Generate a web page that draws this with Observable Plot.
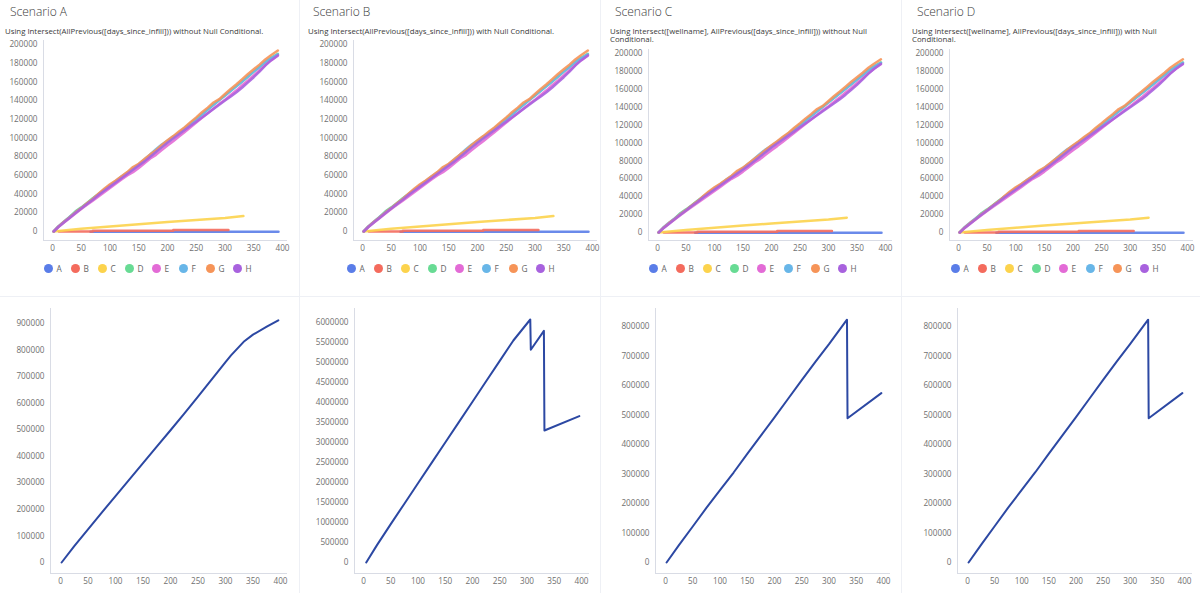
<!DOCTYPE html>
<html><head><meta charset="utf-8">
<script src="https://cdn.jsdelivr.net/npm/d3@7"></script>
<script src="https://cdn.jsdelivr.net/npm/@observablehq/plot@0.6"></script>
<style>
html,body{margin:0;padding:0;background:#fff;}
body{width:1200px;height:593px;position:relative;overflow:hidden;font-family:"Open Sans",sans-serif;}
.abs{position:absolute;}
.title{font-size:12px;font-weight:300;color:#3a3a3a;white-space:nowrap;line-height:16px;}
.sub{font-size:7.8px;color:#3a3a3a;line-height:8.3px;white-space:nowrap;}
.lg{position:absolute;height:10px;display:flex;align-items:center;font-size:8.3px;color:#666;}
.lg span.d{width:9px;height:9px;border-radius:50%;display:inline-block;margin-right:4px;}
.vsep{position:absolute;top:0;width:1px;height:593px;background:#eef0f5;}
.hsep{position:absolute;left:0;width:1200px;height:1px;background:#eef0f5;}
</style></head>
<body>
<script>
// ---------- DATA ----------
const scenarios = ["Scenario A", "Scenario B", "Scenario C", "Scenario D"];
const subtitles = [
  ["Using Intersect(AllPrevious([days_since_infill])) without Null Conditional."],
  ["Using Intersect(AllPrevious([days_since_infill])) with Null Conditional."],
  ["Using Intersect([wellname], AllPrevious([days_since_infill])) without Null", "Conditional."],
  ["Using Intersect([wellname], AllPrevious([days_since_infill])) with Null", "Conditional."]
];
const seriesNames = ["A", "B", "C", "D", "E", "F", "G", "H"];
const seriesColors = ["#5a7de8", "#f46b5d", "#fcd34d", "#68db94", "#e36bd6", "#68b6e8", "#f69458", "#a862de"];

// top charts (same in every scenario)
const aDays = [66, 393];
const aVals = [-300, -300];
const bDays = [11, 70, 70, 210, 210, 306];
const bVals = [0, 0, 700, 700, 1700, 1700];
const cDays = [2, 50, 100, 150, 200, 250, 300, 332];
const cVals = [0, 2900, 5400, 7800, 10100, 12300, 14500, 16500];
const wellDays = [2,10,20,30,40,50,60,70,80,90,100,110,120,130,140,150,160,170,180,190,200,210,220,230,240,250,260,270,280,290,300,310,320,330,340,350,360,370,380,392];
const dVals = [0,5000,10200,15500,21500,25800,30500,35500,40000,44500,49000,53500,57500,62000,66500,71000,75500,80500,85500,90500,95500,100500,105500,110500,115500,120500,125500,130500,135500,140500,145500,150500,155500,160500,165500,171000,176000,181000,185500,190000];
const eVals = [0,4500,9500,14500,19200,24000,28500,33000,37500,42000,46500,51000,55500,60000,63500,68000,73000,78000,82000,87000,92000,96500,101500,106500,111500,116500,121500,126500,131500,136500,141000,146000,151000,156500,161500,167000,172500,178000,183000,188000];
const fVals = [0,5500,10800,15800,20800,25200,29800,35000,40000,45000,49500,54000,58800,63000,67500,72000,77000,82500,88000,93000,97000,101500,105500,110500,115000,120000,125000,130500,135500,140500,145500,150500,155500,160500,166000,171000,176000,181500,185500,189500];
const gVals = [0,5200,10500,15200,20500,25000,30200,34800,40500,45800,50500,54500,59000,63500,69000,72500,77500,82500,87000,92500,97500,102000,107000,111500,117000,122000,127500,132500,138000,141500,147000,152500,157500,163000,168500,173500,178500,184000,188500,193500];
const hVals = [0,4800,9800,14800,19800,24500,29500,34000,39000,43500,48000,52500,57000,61500,66000,70500,75000,80000,85000,90000,95000,99500,104000,108500,113000,117500,122000,126500,131000,135500,140000,144500,149000,154000,159500,165000,171000,177500,183000,188500];

// bottom charts (one series per scenario)
const totADays = [2,25,50,75,100,125,150,175,200,225,250,275,300,310,333,350,375,396];
const totAVals = [0,62000,125000,188000,250000,312000,374000,436000,498000,561000,625000,690000,755000,780000,831000,858000,888000,912000];
const totBDays = [5,25,50,75,100,125,150,175,200,225,250,275,306,307,331,332,396];
const totBVals = [0,440000,960000,1470000,1980000,2490000,3000000,3510000,4020000,4530000,5040000,5550000,6075000,5320000,5790000,3300000,3660000];
const totCDays = [2,25,50,75,100,125,150,175,200,225,250,275,300,333,334,396];
const totCVals = [0,60000,122000,185000,245000,305000,368000,430000,492000,555000,618000,680000,740000,823000,489000,574000];
const totDDays = [2,25,50,75,100,125,150,175,200,225,250,275,300,333,334,396];
const totDVals = [0,60000,123000,186000,246000,306000,369000,431000,493000,556000,619000,681000,741000,823000,489000,574000];

const xTicks = [0, 50, 100, 150, 200, 250, 300, 350, 400];
const topYTicks = [0, 20000, 40000, 60000, 80000, 100000, 120000, 140000, 160000, 180000, 200000];
const botYTicksA = [0, 100000, 200000, 300000, 400000, 500000, 600000, 700000, 800000, 900000];
const botYTicksB = [0, 500000, 1000000, 1500000, 2000000, 2500000, 3000000, 3500000, 4000000, 4500000, 5000000, 5500000, 6000000];
const botYTicksCD = [0, 100000, 200000, 300000, 400000, 500000, 600000, 700000, 800000];

// ---------- TABLES ----------
const topSeries = [[aDays,aVals],[bDays,bVals],[cDays,cVals],[wellDays,dVals],[wellDays,eVals],[wellDays,fVals],[wellDays,gVals],[wellDays,hVals]];
const topRows = topSeries.flatMap(([ds, vs], i) => ds.map((d, j) => ({s: seriesNames[i], day: d, v: vs[j]})));
const botSeries = [[totADays,totAVals],[totBDays,totBVals],[totCDays,totCVals],[totDDays,totDVals]];
const botRows = botSeries.map(([ds, vs]) => ds.map((d, j) => ({day: d, v: vs[j]})));
const botTicks = [botYTicksA, botYTicksB, botYTicksCD, botYTicksCD];

// ---------- LAYOUT ----------
const panelLeft = [0, 300, 600, 900];
const topLayout = [
  {axL:43, axR:287, x0:52, x400:282, axTop:40, axBot:240, y0:231, yRefPx:44, yRef:200000},
  {axL:53, axR:297, x0:62, x400:292, axTop:40, axBot:240, y0:231, yRefPx:44, yRef:200000},
  {axL:48, axR:292, x0:57, x400:285, axTop:49, axBot:240, y0:232, yRefPx:53, yRef:200000},
  {axL:49, axR:293, x0:58, x400:287, axTop:49, axBot:240, y0:232, yRefPx:53, yRef:200000}
];
const botLayout = [
  {axL:50, axR:287, x0:60, x400:280, axTop:308, axBot:573, y0:562, yRefPx:323, yRef:900000},
  {axL:54, axR:289, x0:63, x400:281, axTop:308, axBot:573, y0:562, yRefPx:322, yRef:6000000},
  {axL:55, axR:290, x0:65, x400:283, axTop:308, axBot:573, y0:562, yRefPx:326, yRef:800000},
  {axL:57, axR:292, x0:67, x400:284, axTop:308, axBot:573, y0:562, yRefPx:326, yRef:800000}
];
const legendX = [48, 51, 53, 55];

function makeChart(L, left, svgTop, svgH, yTicks, marks, colorOpt) {
  const k = (L.x400 - L.x0) / 400;
  const xd = [(L.axL - L.x0) / k, (L.axR - L.x0) / k];
  const ky = (L.yRefPx - L.y0) / L.yRef;
  const yd = [(L.axBot - L.y0) / ky, (L.axTop - L.y0) / ky];
  const W = 300;
  const opts = {
    width: W, height: svgH,
    marginLeft: L.axL, marginRight: W - L.axR,
    marginTop: L.axTop - svgTop, marginBottom: svgTop + svgH - L.axBot,
    style: {fontSize: "8.2px", fontFamily: "Open Sans", color: "#707070", background: "transparent", overflow: "visible"},
    x: {domain: xd, ticks: xTicks, tickSize: 0, tickPadding: 5, label: null, tickFormat: d => String(d)},
    y: {domain: yd, ticks: yTicks, tickSize: 0, tickPadding: 6, label: null, tickFormat: d => String(d)},
    marks: [
      Plot.ruleX([xd[0]], {stroke: "#d9dce5", strokeWidth: 1}),
      Plot.ruleY([yd[0]], {stroke: "#d9dce5", strokeWidth: 1}),
      ...marks
    ]
  };
  if (colorOpt) opts.color = colorOpt;
  const svg = Plot.plot(opts);
  svg.style.position = "absolute";
  svg.style.left = left + "px";
  svg.style.top = svgTop + "px";
  document.body.appendChild(svg);
}

// separators
[299, 600, 901].forEach(x => { const d = document.createElement("div"); d.className = "vsep"; d.style.left = x + "px"; document.body.appendChild(d); });
{ const h = document.createElement("div"); h.className = "hsep"; h.style.top = "296px"; document.body.appendChild(h); }

for (let p = 0; p < 4; p++) {
  const left = panelLeft[p];
  // title
  const t = document.createElement("div");
  t.className = "abs title"; t.textContent = scenarios[p];
  t.style.left = (left + [10, 13, 15, 17][p]) + "px"; t.style.top = "4px";
  document.body.appendChild(t);
  // subtitle
  const s = document.createElement("div");
  s.className = "abs sub";
  s.style.left = (left + [5, 8, 10, 12][p]) + "px"; s.style.top = "27px";
  subtitles[p].forEach((line, i) => { if (i) s.appendChild(document.createElement("br")); s.appendChild(document.createTextNode(line)); });
  document.body.appendChild(s);

  // top chart
  makeChart(topLayout[p], left, 36, 222, topYTicks, [
    Plot.line(topRows, {x: "day", y: "v", z: "s", stroke: "s", strokeWidth: 2.5, strokeOpacity: 0.9})
  ], {domain: seriesNames, range: seriesColors});

  // legend
  seriesNames.forEach((n, i) => {
    const it = document.createElement("div");
    it.className = "lg";
    it.style.left = (left + legendX[p] - 4.5 + i * 27) + "px";
    it.style.top = "263px";
    const dot = document.createElement("span");
    dot.className = "d"; dot.style.background = seriesColors[i];
    it.appendChild(dot);
    it.appendChild(document.createTextNode(n));
    document.body.appendChild(it);
  });

  // bottom chart
  makeChart(botLayout[p], left, 300, 290, botTicks[p], [
    Plot.line(botRows[p], {x: "day", y: "v", stroke: "#2c48a3", strokeWidth: 2})
  ]);
}
</script>
</body></html>
